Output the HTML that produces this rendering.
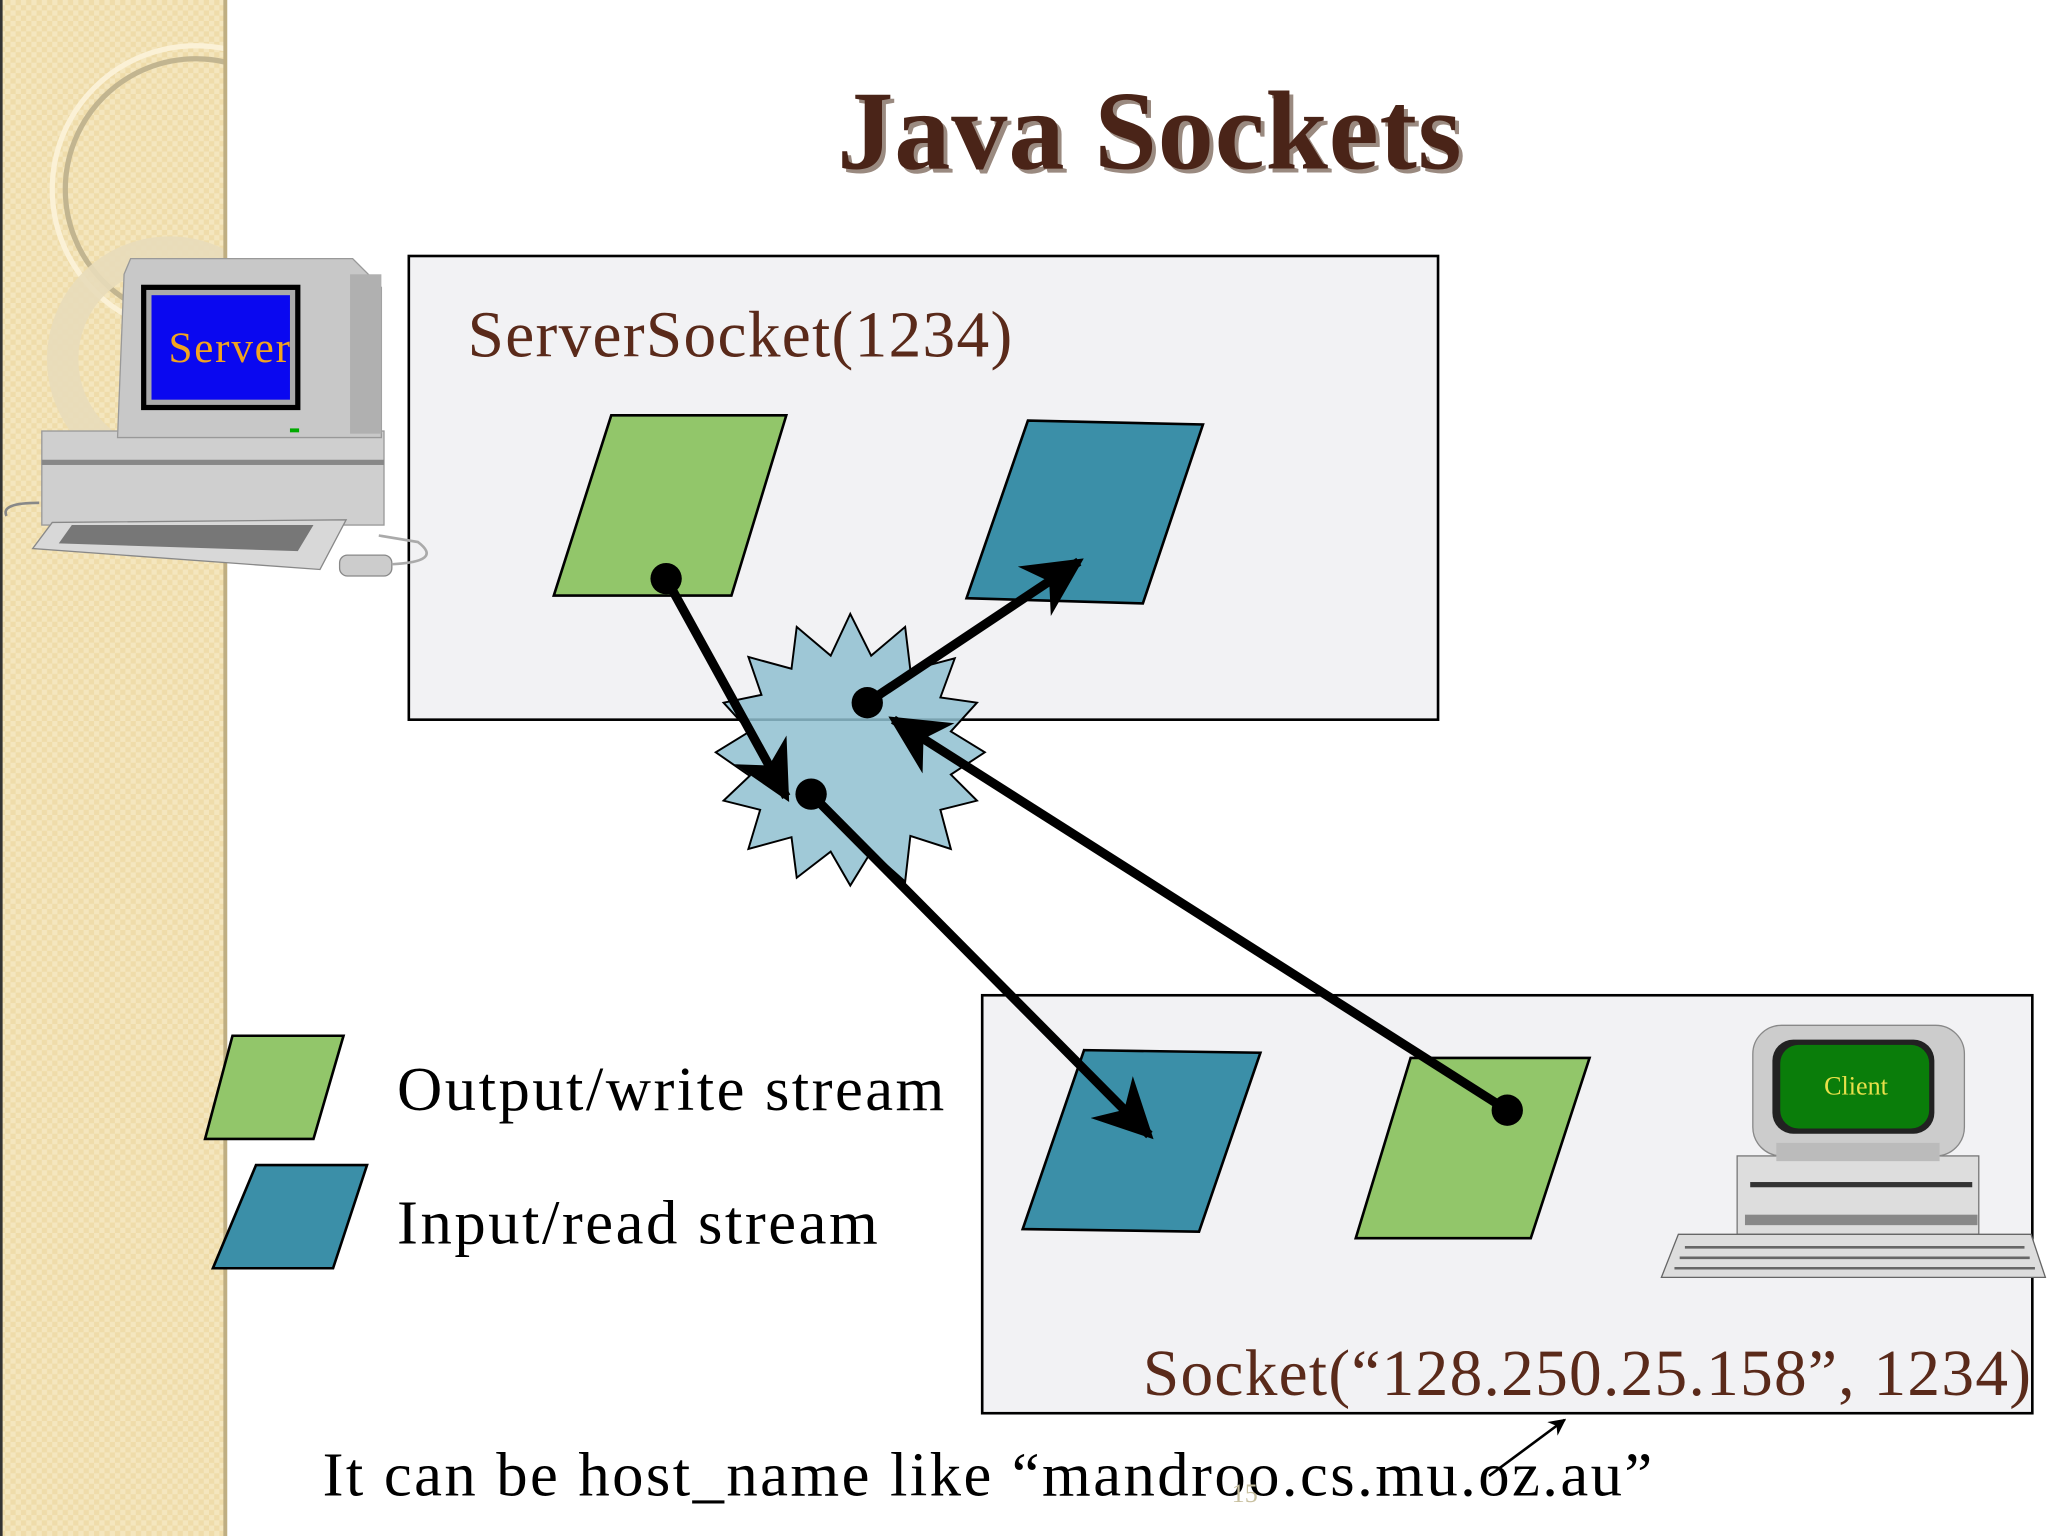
<!DOCTYPE html>
<html><head><meta charset="utf-8"><style>
html,body{margin:0;padding:0;background:#fff;}
svg{display:block;}
text{font-family:"Liberation Serif",serif;}
</style></head><body>
<svg width="2048" height="1536" viewBox="0 0 1568 1176" xmlns="http://www.w3.org/2000/svg">
<defs>
<marker id="ah" viewBox="0 0 10 10" refX="9" refY="5" markerWidth="6.5" markerHeight="6.5" orient="auto" markerUnits="strokeWidth"><path d="M0,0 L10,5 L0,10 L3,5 z" fill="#000"/></marker>
<pattern id="chk" width="8" height="8" patternUnits="userSpaceOnUse"><rect width="8" height="8" fill="#efdcaa"/><rect width="4" height="4" fill="#f4e6be"/><rect x="4" y="4" width="4" height="4" fill="#f4e6be"/></pattern>
<clipPath id="lc"><rect x="0" y="0" width="172" height="1176"/></clipPath>
</defs>
<rect width="1568" height="1176" fill="#fff"/>
<rect x="0" y="0" width="172" height="1176" fill="url(#chk)"/>
<g clip-path="url(#lc)">
<circle cx="150" cy="145" r="100" fill="none" stroke="#c2b590" stroke-width="4"/>
<circle cx="150" cy="145" r="110" fill="none" stroke="#fbf1d6" stroke-width="4"/>
<circle cx="130" cy="275" r="82" fill="none" stroke="#e8dcba" stroke-width="24" opacity="0.9"/>
</g>
<rect x="0" y="0" width="2" height="1176" fill="#333"/>
<rect x="171" y="0" width="3" height="1176" fill="#bfae82"/>
<!-- title -->
<text x="883" y="132" font-size="86" font-weight="bold" text-anchor="middle" fill="#9a8a80" textLength="478">Java Sockets</text>
<text x="880" y="129" font-size="86" font-weight="bold" text-anchor="middle" fill="#4a2418" textLength="478">Java Sockets</text>
<!-- server box -->
<rect x="313" y="196" width="788" height="355" fill="#f2f2f4" stroke="#000" stroke-width="2"/>
<text x="358" y="273" font-size="50" fill="#5a2a1a" textLength="417">ServerSocket(1234)</text>
<polygon points="468,318 602,318 560,456 424,456" fill="#92c66a" stroke="#000" stroke-width="2"/>
<polygon points="787,322 921,325 875,462 740,458" fill="#3b8fa8" stroke="#000" stroke-width="2"/>
<!-- client box -->
<rect x="752" y="762" width="804" height="320" fill="#f2f2f4" stroke="#000" stroke-width="2"/>
<polygon points="830,804 965,806 918,943 783,941" fill="#3b8fa8" stroke="#000" stroke-width="2"/>
<polygon points="1080,810 1217,810 1172,948 1038,948" fill="#92c66a" stroke="#000" stroke-width="2"/>
<text x="875" y="1068" font-size="50" fill="#5a2a1a" textLength="680">Socket(“128.250.25.158”, 1234)</text>
<!-- starburst -->
<polygon fill="#8fc0d0" fill-opacity="0.85" stroke="#000" stroke-width="1.5" points="
651,470 667,502 693,480 697,513 731,504 720,534 748,538 728,560 754,576 728,593 748,613 720,620 728,650 697,640 693,675 667,652 651,678 636,652 610,672 606,641 573,650 582,620 554,613 574,594 548,576 574,560 554,538 583,532 573,503 606,512 610,480 636,502"/>
<!-- lines -->
<g stroke="#000" stroke-width="7" fill="none">
<line x1="510" y1="443" x2="602" y2="610" marker-end="url(#ah)"/>
<line x1="664" y1="538" x2="826" y2="430" marker-end="url(#ah)"/>
<line x1="621" y1="608" x2="880" y2="869" marker-end="url(#ah)"/>
<line x1="1154" y1="850" x2="684" y2="551" marker-end="url(#ah)"/>
</g>
<g fill="#000"><circle cx="510" cy="443" r="12"/><circle cx="664" cy="538" r="12"/><circle cx="621" cy="608" r="12"/><circle cx="1154" cy="850" r="12"/></g>
<!-- legend -->
<polygon points="178,793 263,793 240,872 157,872" fill="#92c66a" stroke="#000" stroke-width="2"/>
<polygon points="196,892 281,892 255,971 163,971" fill="#3b8fa8" stroke="#000" stroke-width="2"/>
<text x="304" y="850" font-size="48" fill="#000" textLength="419">Output/write stream</text>
<text x="304" y="952" font-size="48" fill="#000" textLength="368">Input/read stream</text>
<text x="247" y="1145" font-size="48" fill="#000" textLength="1018">It can be host_name like “mandroo.cs.mu.oz.au”</text>
<line x1="1140" y1="1130" x2="1198" y2="1087" stroke="#000" stroke-width="2" marker-end="url(#ah)"/>
<!-- server computer -->
<g>
<path d="M5,395 Q0,385 30,385" stroke="#888" stroke-width="2" fill="none"/>
<rect x="32" y="330" width="262" height="72" fill="#cfcfcf" stroke="#999"/>
<rect x="32" y="352" width="262" height="4" fill="#888"/>
<polygon points="40,400 265,398 245,436 25,420" fill="#d8d8d8" stroke="#888"/>
<polygon points="55,402 240,402 228,422 45,416" fill="#777"/>
<rect x="260" y="425" width="40" height="16" rx="6" fill="#ccc" stroke="#888"/>
<path d="M300,432 Q340,430 320,415 L290,410" stroke="#aaa" fill="none" stroke-width="2"/>
<polygon points="100,198 270,198 292,220 292,335 90,335 95,210" fill="#c8c8c8" stroke="#999"/>
<rect x="268" y="210" width="24" height="122" fill="#b0b0b0"/>
<rect x="108" y="218" width="122" height="96" fill="#000"/>
<rect x="112" y="222" width="114" height="88" fill="#aaa"/>
<rect x="116" y="226" width="106" height="80" fill="#0a08f0"/>
<text x="129" y="277" font-size="33" fill="#f2a41f" textLength="93">Server</text>
<rect x="222" y="328" width="7" height="3" fill="#0a0"/>
</g>
<!-- client computer -->
<g>
<rect x="1330" y="885" width="185" height="60" fill="#ddd" stroke="#777"/>
<rect x="1340" y="905" width="170" height="4" fill="#333"/>
<rect x="1336" y="930" width="178" height="8" fill="#888"/>
<polygon points="1285,945 1555,945 1566,978 1272,978" fill="#ddd" stroke="#666"/>
<g stroke="#666" stroke-width="2"><line x1="1290" y1="955" x2="1550" y2="955"/><line x1="1286" y1="963" x2="1554" y2="963"/><line x1="1282" y1="971" x2="1558" y2="971"/></g>
<rect x="1342" y="785" width="162" height="100" rx="22" fill="#ccc" stroke="#888"/>
<rect x="1360" y="875" width="125" height="14" fill="#bbb"/>
<rect x="1357" y="796" width="124" height="72" rx="16" fill="#222"/>
<rect x="1363" y="800" width="114" height="64" rx="14" fill="#0a7d0a"/>
<text x="1421" y="838" font-size="20" fill="#e8e04a" text-anchor="middle">Client</text>
</g>
<text x="953" y="1150" font-size="20" fill="#c8c0a0" text-anchor="middle">15</text>
</svg>
</body></html>
